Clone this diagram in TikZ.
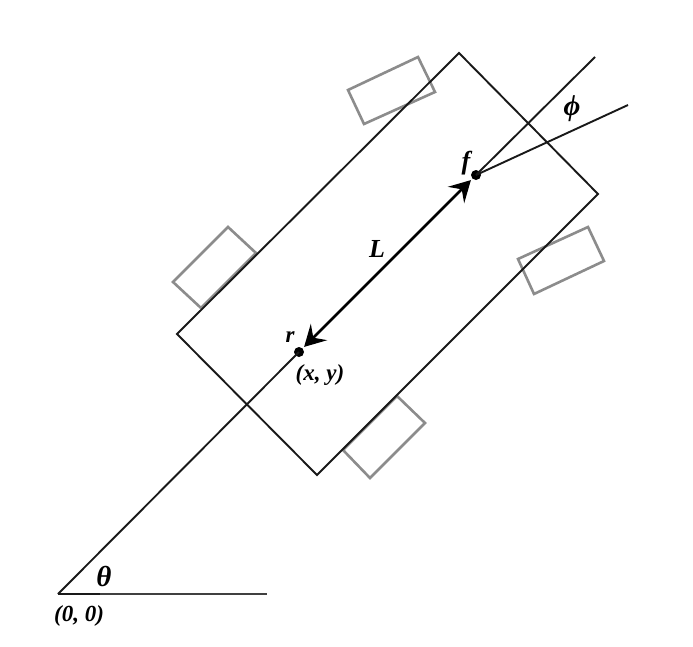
\documentclass[tikz,border=0pt]{standalone}
\usepackage{fontspec}
\setmainfont{Liberation Serif}
\usetikzlibrary{arrows.meta,calc}
\tikzset{
	body/.style={draw=black!90, line width=1.9pt, line join=miter},
	wheel/.style={draw=black!45, line width=2.6pt},
	axisline/.style={draw=black!90, line width=1.9pt},
	pointdot/.style={circle, fill=black, inner sep=0pt, minimum size=10pt},
	lab/.style={inner sep=0pt, font=\bfseries\itshape\fontsize{23}{25}\selectfont},
	biglab/.style={inner sep=0pt, font=\bfseries\itshape\fontsize{26}{28}\selectfont},
	greeklab/.style={inner sep=0pt, font=\bfseries\itshape\fontsize{29}{31}\selectfont},
	barb/.tip={Stealth[inset=8pt,length=21pt,width=23pt]},
}
\newcommand{\nwheel}[4]{
	\draw[wheel] #1 -- #2 -- #3 -- #4 -- cycle;
}
\begin{document}
\begin{tikzpicture}[x=1pt, y=-1pt]
\useasboundingbox (0,0) rectangle (693,646);
%
	\coordinate (origin) at (58,594);
	\coordinate (base) at (267,594);
	\coordinate (front) at (595,57);
	\coordinate (steer) at (628,105);
	\coordinate (c1) at (459,53);
	\coordinate (c2) at (598,194);
	\coordinate (c3) at (317,475);
	\coordinate (c4) at (177,334);
%
	\nwheel{(348,90)}{(418,57)}{(435,92)}{(364,124)}
	\nwheel{(518,259)}{(588,227)}{(604,261)}{(534,294)}
	\nwheel{(228,227)}{(256,253)}{(201,308)}{(173,282)}
	\nwheel{(397,396)}{(425,423)}{(370,478)}{(343,450)}
%
	\draw[body] (c1) -- (c2) -- (c3) -- (c4) -- cycle;
	\node[pointdot] (r) at (299,352) {};
	\node[pointdot] (f) at (476,175) {};
	\draw[axisline] (origin) -- (r.center);
	\draw[axisline] (f.center) -- (front);
	\draw[axisline] (f.center) -- (steer);
	\draw[axisline] (origin) -- (base);
	\draw[draw=black!75, line width=2.4pt] (100,594) -- (base);
%
	\draw[barb-barb, line width=2.8pt, shorten >=2pt, shorten <=2pt] (r) -- (f);
%
	\node[biglab] (fl) at (466,163) {f};
	\node[lab] (rl) at (290,337) {r};
	\node[biglab] (ll) at (377,249) {L};
	\node[lab] (xy) at (320,375) {(x, y)};
	\node[greeklab] (ph) at (572,109) {ϕ};
	\node[greeklab] (th) at (104,576) {θ};
	\node[lab] (oo) at (79,616) {(0, 0)};
\end{tikzpicture}
\end{document}
